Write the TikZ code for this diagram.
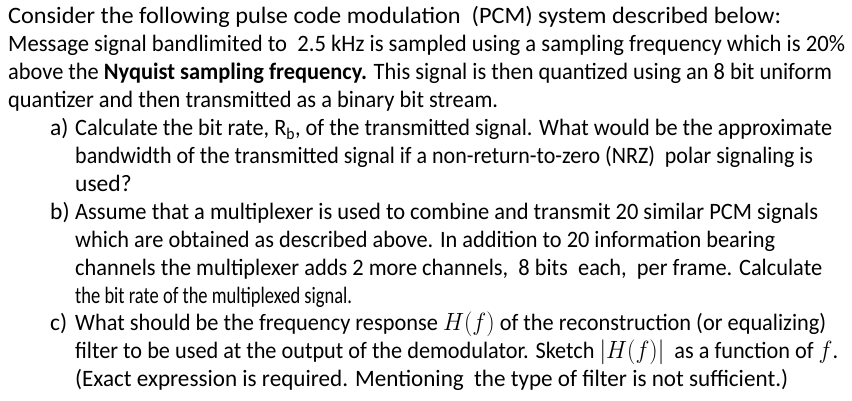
\documentclass[tikz,border=0pt]{standalone}
\usepackage{fontspec}
\usepackage{graphicx}
\setmainfont{Carlito}
\newcommand{\fitw}[2]{\resizebox{#1pt}{\height}{#2}}
\begin{document}
\begin{tikzpicture}[x=1pt,y=-1pt,
  ln/.style={anchor=base west,inner sep=0pt,font=\fontsize{23.5}{26}\selectfont}]
\useasboundingbox (0,0) rectangle (852,401);
\def\b{24}\def\d{27.9}
\node[ln] (l1) at (8,{\b+0*\d}) {\fitw{773}{Consider the following pulse code modulation~ (PCM) system described below:}};
\node[ln] (l2) at (8,{\b+1*\d}) {\fitw{837}{Message signal bandlimited to~ 2.5 kHz is sampled using a sampling frequency which is 20\%}};
\node[ln] (l3) at (8,{\b+2*\d}) {\fitw{824}{above the \textbf{Nyquist sampling frequency.} This signal is then quantized using an 8 bit uniform}};
\node[ln] (l4) at (8,{\b+3*\d}) {\fitw{490}{quantizer and then transmitted as a binary bit stream.}};
\node[ln] (a) at (50,{\b+4*\d}) {a)};
\node[ln] (l5) at (75,{\b+4*\d}) {\fitw{757}{Calculate the bit rate, R\textsubscript{b}, of the transmitted signal. What would be the approximate}};
\node[ln] (l6) at (75,{\b+5*\d}) {\fitw{738}{bandwidth of the transmitted signal if a non-return-to-zero (NRZ)~ polar signaling is}};
\node[ln] (l7) at (75,{\b+6*\d}) {used?};
\node[ln] (bb) at (50,{\b+7*\d}) {b)};
\node[ln] (l8) at (75,{\b+7*\d}) {\fitw{743}{Assume that a multiplexer is used to combine and transmit 20 similar PCM signals}};
\node[ln] (l9) at (75,{\b+8*\d}) {\fitw{700}{which are obtained as described above. In addition to 20 information bearing}};
\node[ln] (l10) at (75,{\b+9*\d}) {\fitw{747}{channels the multiplexer adds 2 more channels,~ 8 bits~ each,~ per frame. Calculate}};
\node[ln] (l11) at (75,{\b+10*\d}) {\fitw{277}{the bit rate of the multiplexed signal.}};
\node[ln] (c) at (50,{\b+11*\d}) {c)};
\node[ln] (l12) at (75,{\b+11*\d}) {\fitw{751}{What should be the frequency response $H(f)$ of the reconstruction (or equalizing)}};
\node[ln] (l13) at (75,{\b+12*\d}) {\fitw{763}{filter to be used at the output of the demodulator. Sketch $|H(f)|$~ as a function of $f$.}};
\node[ln] (l14) at (75,{\b+13*\d}) {\fitw{713}{(Exact expression is required. Mentioning~ the type of filter is not sufficient.)}};
\end{tikzpicture}
\end{document}
